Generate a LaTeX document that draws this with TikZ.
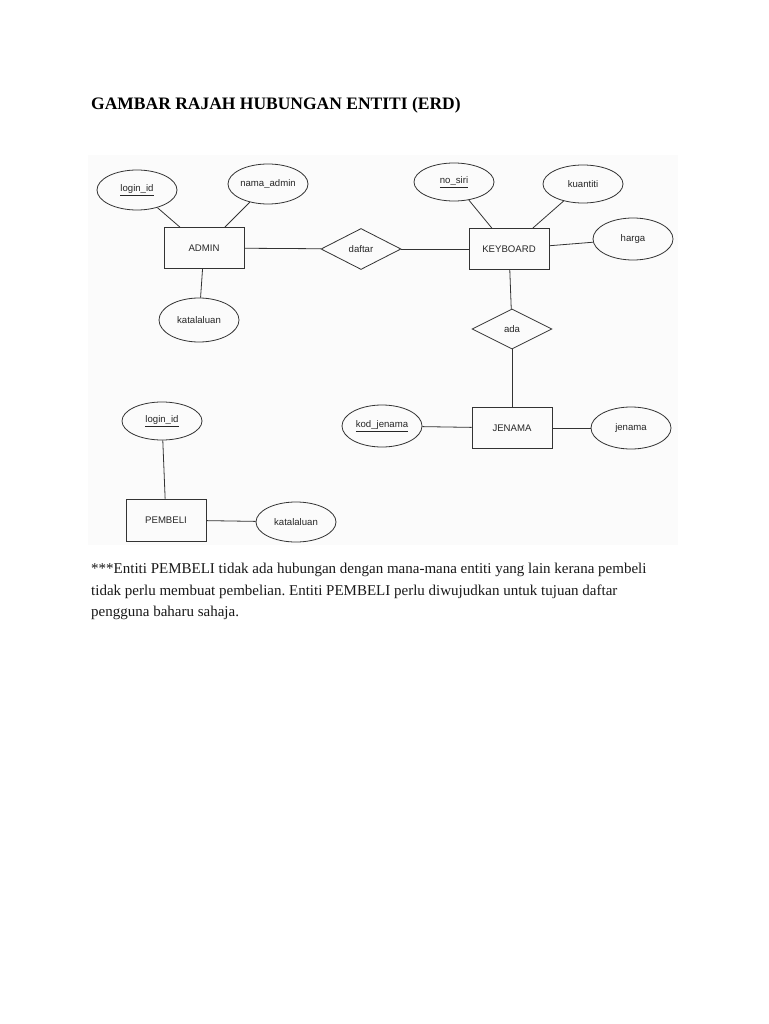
\documentclass[tikz,border=0pt]{standalone}
\usepackage{fontspec}
\setmainfont{Liberation Serif}
\newfontfamily\diagfont{Liberation Sans}
\usetikzlibrary{shapes.geometric}
\frenchspacing
\tikzset{
  entity/.style={draw=black!80, line width=0.8pt, rectangle, minimum width=80pt, minimum height=41pt, inner sep=0pt, font=\diagfont\fontsize{9.6}{11}\selectfont, text=black!85},
  attr/.style={draw=black!80, line width=0.8pt, ellipse, minimum width=80pt, minimum height=40pt, inner sep=0pt, font=\diagfont\fontsize{9.6}{11}\selectfont, text=black!85},
  rel/.style={draw=black!80, line width=0.8pt, diamond, minimum width=80pt, minimum height=41pt, inner sep=0pt, font=\diagfont\fontsize{9.6}{11}\selectfont, text=black!85},
  conn/.style={draw=black!80, line width=0.8pt},
  bodytext/.style={anchor=base west, inner sep=0pt, font=\fontsize{15}{18}\selectfont, text=black!90}
}
\begin{document}
\begin{tikzpicture}[x=1pt,y=-1pt]
\useasboundingbox (0,0) rectangle (768,1024);
\fill[white] (0,0) rectangle (768,1024);
\fill[black!1.5] (88,155) rectangle (678,545);

% title
\node[anchor=base west, inner sep=0pt, font=\bfseries\fontsize{17.5}{20}\selectfont] (title) at (91,109.3) {GAMBAR RAJAH HUBUNGAN ENTITI (ERD)};

% ADMIN cluster
\node[entity] (admin) at (204,248) {ADMIN};
\node[attr] (lid1) at (137,190) {\underline{login\_id}};
\node[attr] (nama) at (268,184) {nama\_admin};
\node[attr, minimum height=44pt] (kata1) at (199,320) {katalaluan};
\node[rel] (daftar) at (361,249) {daftar};

% KEYBOARD cluster
\node[entity] (kb) at (509,249) {KEYBOARD};
\node[attr, minimum height=38pt] (nosiri) at (454,182) {\underline{no\_siri}};
\node[attr, minimum height=38pt] (kuan) at (583,184) {kuantiti};
\node[attr, minimum height=42pt] (harga) at (633,239) {harga};
\node[rel, minimum height=40pt] (ada) at (512,329) {ada};

% JENAMA cluster
\node[entity] (jen) at (512,428) {JENAMA};
\node[attr, minimum height=42pt] (kod) at (382,426) {\underline{kod\_jenama}};
\node[attr, minimum height=42pt] (jenama) at (631,428) {jenama};

% PEMBELI cluster
\node[entity, minimum height=42pt] (pemb) at (166,520) {PEMBELI};
\node[attr, minimum height=38pt] (lid2) at (162,421) {\underline{login\_id}};
\node[attr] (kata2) at (296,522) {katalaluan};

% connectors
\draw[conn] (lid1) -- (admin);
\draw[conn] (nama) -- (admin);
\draw[conn] (admin) -- (kata1);
\draw[conn] (admin) -- (daftar);
\draw[conn] (daftar) -- (kb);
\draw[conn] (nosiri) -- (kb);
\draw[conn] (kuan) -- (kb);
\draw[conn] (kb) -- (harga);
\draw[conn] (kb) -- (ada);
\draw[conn] (ada) -- (jen);
\draw[conn] (kod) -- (jen);
\draw[conn] (jen) -- (jenama);
\draw[conn] (lid2) -- (pemb);
\draw[conn] (pemb) -- (kata2);

% body text
\node[bodytext] (l1) at (91,573.3) {***Entiti PEMBELI tidak ada hubungan dengan mana-mana entiti yang lain kerana pembeli};
\node[bodytext] (l2) at (91,595) {tidak perlu membuat pembelian. Entiti PEMBELI perlu diwujudkan untuk tujuan daftar};
\node[bodytext] (l3) at (91,616.7) {pengguna baharu sahaja.};
\end{tikzpicture}
\end{document}
